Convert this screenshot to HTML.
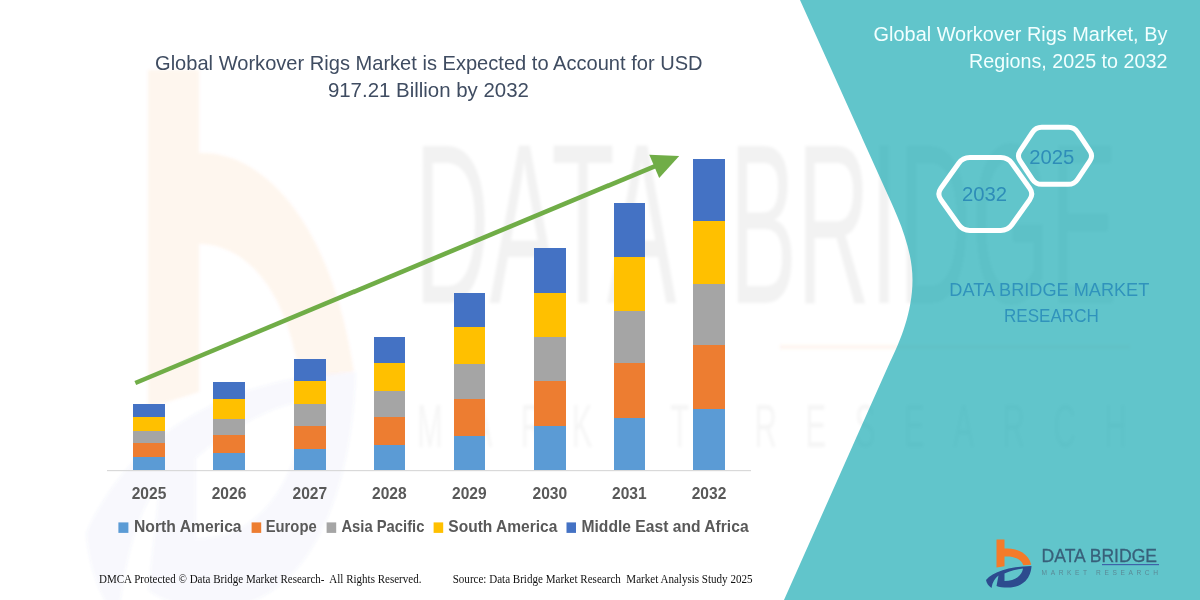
<!DOCTYPE html>
<html lang="en">
<head>
<meta charset="utf-8">
<title>Global Workover Rigs Market</title>
<style>
html,body{margin:0;padding:0;background:#fff;}
body{width:1200px;height:600px;overflow:hidden;}
svg{display:block;}
.sans{font-family:"Liberation Sans",Arial,sans-serif;}
.serif{font-family:"Liberation Serif","Times New Roman",serif;}
</style>
</head>
<body>
<svg width="1200" height="600" viewBox="0 0 1200 600">
  <defs><filter id="soft" x="-5%" y="-5%" width="110%" height="110%"><feGaussianBlur stdDeviation="1.6"/></filter></defs>
  <rect width="1200" height="600" fill="#ffffff"/>

  <!-- watermark (faint brand logo stretched across the slide) -->
  <g id="wm" filter="url(#soft)">
    <path d="M148,70 L199,70 L199,153 C262,150 332,222 354,372 L300,379 C286,282 241,244 199,244 L199,392 L148,408 Z" fill="#ED7D31" fill-opacity="0.065"/>
    <path transform="translate(86,372) scale(5.93,11.5) translate(-986,-566)" d="M986,580 C993,572 1008,566.5 1031.5,566 C1031,576 1024,586.5 1008,586.5 C1003,586.5 999,586 996.5,585 L998.5,575.5 C995,578 992.5,582 991.5,587.5 C988.5,586 986.5,583 986,580 Z M1004.5,573.5 C1010,571 1017,569 1023,568.5 C1022,575 1016,580.5 1004.5,580.5 Z" fill="#4472C4" fill-opacity="0.04" fill-rule="evenodd"/>
    <text class="sans" font-size="94" fill="#000" fill-opacity="0.05" transform="translate(0,303) scale(1,2.43)"><tspan x="414.5" y="0" textLength="262" lengthAdjust="spacingAndGlyphs">DATA</tspan> <tspan x="729.5" y="0" textLength="388" lengthAdjust="spacingAndGlyphs">BRIDGE</tspan></text>
    <text class="sans" x="417" y="0" font-size="31" fill="#000" fill-opacity="0.04" transform="translate(0,447) scale(1,2)" textLength="710" lengthAdjust="spacing">MARKET RESEARCH</text>
    <rect x="780" y="345" width="350" height="4" fill="#ED7D31" fill-opacity="0.08"/>
  </g>

  <!-- teal panel (slightly translucent so the brand watermark shows through faintly) -->
  <path id="panel" d="M800,0 L882,182 C895,211 912.5,245 912.5,280 C912.5,312 900,342 890,362 L784,600 L1200,600 L1200,0 Z" fill="rgb(13,166,175)" fill-opacity="0.65"/>

  <!-- chart axis -->
  <rect x="107" y="470" width="644" height="1.2" fill="#D9D9D9"/>

  <!-- bars -->
  <g id="bars" shape-rendering="crispEdges">
    <!-- 2025 -->
    <rect x="133" y="404" width="32" height="13" fill="#4472C4"/>
    <rect x="133" y="417" width="32" height="14.3" fill="#FFC000"/>
    <rect x="133" y="431.3" width="32" height="12" fill="#A5A5A5"/>
    <rect x="133" y="443.3" width="32" height="13.4" fill="#ED7D31"/>
    <rect x="133" y="456.7" width="32" height="13.3" fill="#5B9BD5"/>
    <!-- 2026 -->
    <rect x="213" y="381.7" width="32" height="17" fill="#4472C4"/>
    <rect x="213" y="398.7" width="32" height="20" fill="#FFC000"/>
    <rect x="213" y="418.7" width="32" height="16.3" fill="#A5A5A5"/>
    <rect x="213" y="435" width="32" height="18.3" fill="#ED7D31"/>
    <rect x="213" y="453.3" width="32" height="16.7" fill="#5B9BD5"/>
    <!-- 2027 -->
    <rect x="294" y="359" width="31.5" height="22" fill="#4472C4"/>
    <rect x="294" y="381" width="31.5" height="23.3" fill="#FFC000"/>
    <rect x="294" y="404.3" width="31.5" height="21.7" fill="#A5A5A5"/>
    <rect x="294" y="426" width="31.5" height="22.7" fill="#ED7D31"/>
    <rect x="294" y="448.7" width="31.5" height="21.3" fill="#5B9BD5"/>
    <!-- 2028 -->
    <rect x="373.5" y="336.5" width="31.5" height="26.5" fill="#4472C4"/>
    <rect x="373.5" y="363" width="31.5" height="28" fill="#FFC000"/>
    <rect x="373.5" y="391" width="31.5" height="26" fill="#A5A5A5"/>
    <rect x="373.5" y="417" width="31.5" height="27.5" fill="#ED7D31"/>
    <rect x="373.5" y="444.5" width="31.5" height="25.5" fill="#5B9BD5"/>
    <!-- 2029 -->
    <rect x="453.5" y="292.5" width="31.5" height="34" fill="#4472C4"/>
    <rect x="453.5" y="326.5" width="31.5" height="37.5" fill="#FFC000"/>
    <rect x="453.5" y="364" width="31.5" height="35" fill="#A5A5A5"/>
    <rect x="453.5" y="399" width="31.5" height="36.5" fill="#ED7D31"/>
    <rect x="453.5" y="435.5" width="31.5" height="34.5" fill="#5B9BD5"/>
    <!-- 2030 -->
    <rect x="534" y="248" width="31.5" height="44.5" fill="#4472C4"/>
    <rect x="534" y="292.5" width="31.5" height="44.5" fill="#FFC000"/>
    <rect x="534" y="337" width="31.5" height="44" fill="#A5A5A5"/>
    <rect x="534" y="381" width="31.5" height="45" fill="#ED7D31"/>
    <rect x="534" y="426" width="31.5" height="44" fill="#5B9BD5"/>
    <!-- 2031 -->
    <rect x="613.5" y="203" width="31.5" height="53.5" fill="#4472C4"/>
    <rect x="613.5" y="256.5" width="31.5" height="54.8" fill="#FFC000"/>
    <rect x="613.5" y="311.3" width="31.5" height="52" fill="#A5A5A5"/>
    <rect x="613.5" y="363.3" width="31.5" height="54.7" fill="#ED7D31"/>
    <rect x="613.5" y="418" width="31.5" height="52" fill="#5B9BD5"/>
    <!-- 2032 -->
    <rect x="693.3" y="158.5" width="31.5" height="62" fill="#4472C4"/>
    <rect x="693.3" y="220.5" width="31.5" height="63.8" fill="#FFC000"/>
    <rect x="693.3" y="284.3" width="31.5" height="60.4" fill="#A5A5A5"/>
    <rect x="693.3" y="344.7" width="31.5" height="64" fill="#ED7D31"/>
    <rect x="693.3" y="408.7" width="31.5" height="61.3" fill="#5B9BD5"/>
  </g>

  <!-- trend arrow -->
  <g id="arrow">
    <line x1="135.3" y1="383" x2="657" y2="165.3" stroke="#70AD47" stroke-width="4.6"/>
    <polygon points="679.2,156 649.3,154.7 659.2,178.1" fill="#70AD47"/>
  </g>

  <!-- chart title -->
  <g class="sans" font-size="20.4" fill="#3F4C61" text-anchor="middle">
    <text x="428.8" y="69.5" textLength="547.5" lengthAdjust="spacingAndGlyphs">Global Workover Rigs Market is Expected to Account for USD</text>
    <text x="428.4" y="97" textLength="201" lengthAdjust="spacingAndGlyphs">917.21 Billion by 2032</text>
  </g>

  <!-- year labels -->
  <g class="sans" font-size="16.4" font-weight="bold" fill="#595959" text-anchor="middle">
    <text x="149" y="499.2" textLength="34.6" lengthAdjust="spacingAndGlyphs">2025</text>
    <text x="229" y="499.2" textLength="34.6" lengthAdjust="spacingAndGlyphs">2026</text>
    <text x="309.8" y="499.2" textLength="34.6" lengthAdjust="spacingAndGlyphs">2027</text>
    <text x="389.3" y="499.2" textLength="34.6" lengthAdjust="spacingAndGlyphs">2028</text>
    <text x="469.3" y="499.2" textLength="34.6" lengthAdjust="spacingAndGlyphs">2029</text>
    <text x="549.8" y="499.2" textLength="34.6" lengthAdjust="spacingAndGlyphs">2030</text>
    <text x="629.3" y="499.2" textLength="34.6" lengthAdjust="spacingAndGlyphs">2031</text>
    <text x="709" y="499.2" textLength="34.6" lengthAdjust="spacingAndGlyphs">2032</text>
  </g>

  <!-- legend -->
  <g id="legend">
    <rect x="118.4" y="522.4" width="10" height="10.5" fill="#5B9BD5"/>
    <rect x="251.6" y="522.4" width="9.6" height="10.5" fill="#ED7D31"/>
    <rect x="326.6" y="522.4" width="9.6" height="10.5" fill="#A5A5A5"/>
    <rect x="433.6" y="522.4" width="9.6" height="10.5" fill="#FFC000"/>
    <rect x="566.5" y="522.4" width="9.5" height="10.5" fill="#4472C4"/>
    <g class="sans" font-size="16.2" font-weight="bold" fill="#595959">
      <text x="134" y="532.3" textLength="107.6" lengthAdjust="spacingAndGlyphs">North America</text>
      <text x="265.7" y="532.3" textLength="51" lengthAdjust="spacingAndGlyphs">Europe</text>
      <text x="341.4" y="532.3" textLength="83" lengthAdjust="spacingAndGlyphs">Asia Pacific</text>
      <text x="448.3" y="532.3" textLength="109.1" lengthAdjust="spacingAndGlyphs">South America</text>
      <text x="581.5" y="532.3" textLength="167.1" lengthAdjust="spacingAndGlyphs">Middle East and Africa</text>
    </g>
  </g>

  <!-- footer -->
  <g class="serif" font-size="11.6" fill="#111111">
    <text x="99" y="583.2" textLength="322.4" lengthAdjust="spacingAndGlyphs" style="white-space:pre">DMCA Protected © Data Bridge Market Research-  All Rights Reserved.</text>
    <text x="452.7" y="583.2" textLength="299.8" lengthAdjust="spacingAndGlyphs" style="white-space:pre">Source: Data Bridge Market Research  Market Analysis Study 2025</text>
  </g>

  <!-- right panel title -->
  <g class="sans" font-size="20" fill="#F2FFFF" text-anchor="end">
    <text x="1167.4" y="40.6" textLength="293.8" lengthAdjust="spacingAndGlyphs">Global Workover Rigs Market, By</text>
    <text x="1167.4" y="68" textLength="198.4" lengthAdjust="spacingAndGlyphs">Regions, 2025 to 2032</text>
  </g>

  <!-- hexagons -->
  <g fill="none" stroke="#FFFFFF" stroke-width="5" stroke-linejoin="round">
    <path d="M940.9,199.7 Q936.8,194.0 940.9,188.3 L958.7,163.2 Q962.8,157.5 969.8,157.5 L1000.8,157.5 Q1007.8,157.5 1011.9,163.2 L1029.7,188.3 Q1033.8,194.0 1029.7,199.7 L1011.9,224.8 Q1007.8,230.5 1000.8,230.5 L969.8,230.5 Q962.8,230.5 958.7,224.8 Z"/>
    <path d="M1020.1,160.8 Q1016.8,155.8 1020.1,150.8 L1032.4,132.3 Q1035.7,127.3 1041.7,127.3 L1068.3,127.3 Q1074.3,127.3 1077.6,132.3 L1089.9,150.8 Q1093.2,155.8 1089.9,160.8 L1077.6,179.3 Q1074.3,184.3 1068.3,184.3 L1041.7,184.3 Q1035.7,184.3 1032.4,179.3 Z"/>
  </g>
  <g class="sans" font-size="20.3" fill="#2E8DB8" text-anchor="middle">
    <text x="984.5" y="200.6">2032</text>
    <text x="1051.8" y="164.4">2025</text>
  </g>

  <!-- brand text -->
  <g class="sans" font-size="19.2" fill="#3093BC" text-anchor="middle">
    <text x="1049.3" y="295.6" textLength="200" lengthAdjust="spacingAndGlyphs">DATA BRIDGE MARKET</text>
    <text x="1051.4" y="322.2" textLength="94.8" lengthAdjust="spacingAndGlyphs">RESEARCH</text>
  </g>

  <!-- logo -->
  <g id="logo">
    <path d="M996.5,539.5 L1004.5,539.5 L1004.5,548.5 C1016,547.5 1029,553 1031.2,564.7 L1023.3,565.2 C1021,558.5 1013,556 1004.5,556.6 L1004.5,566.3 L996.5,567.5 Z" fill="#F47B2A"/>
    <path d="M986,580 C993,572 1008,566.5 1031.5,566 C1031,577 1024,587.5 1008,587.5 C1003,587.5 999,587 996.5,586 L998.5,575.5 C995,578 992.5,582 991.5,588 C988.5,586 986.5,583 986,580 Z M1004.5,573.5 C1010,571 1017,569 1023,568.5 C1022,575 1016,581 1004.5,581 Z" fill="#2D4B8E" fill-rule="evenodd"/>
    <text class="sans" x="1041.6" y="561.8" font-size="18.8" fill="#38607A" stroke="#38607A" stroke-width="0.3" textLength="115.4" lengthAdjust="spacingAndGlyphs">DATA BRIDGE</text>
    <rect x="1102" y="564" width="57" height="1.2" fill="#3E62A8"/>
    <text class="sans" x="1041.6" y="574.8" font-size="6.6" fill="#5A8A96" textLength="116.4" lengthAdjust="spacing">MARKET RESEARCH</text>
  </g>
</svg>
</body>
</html>
